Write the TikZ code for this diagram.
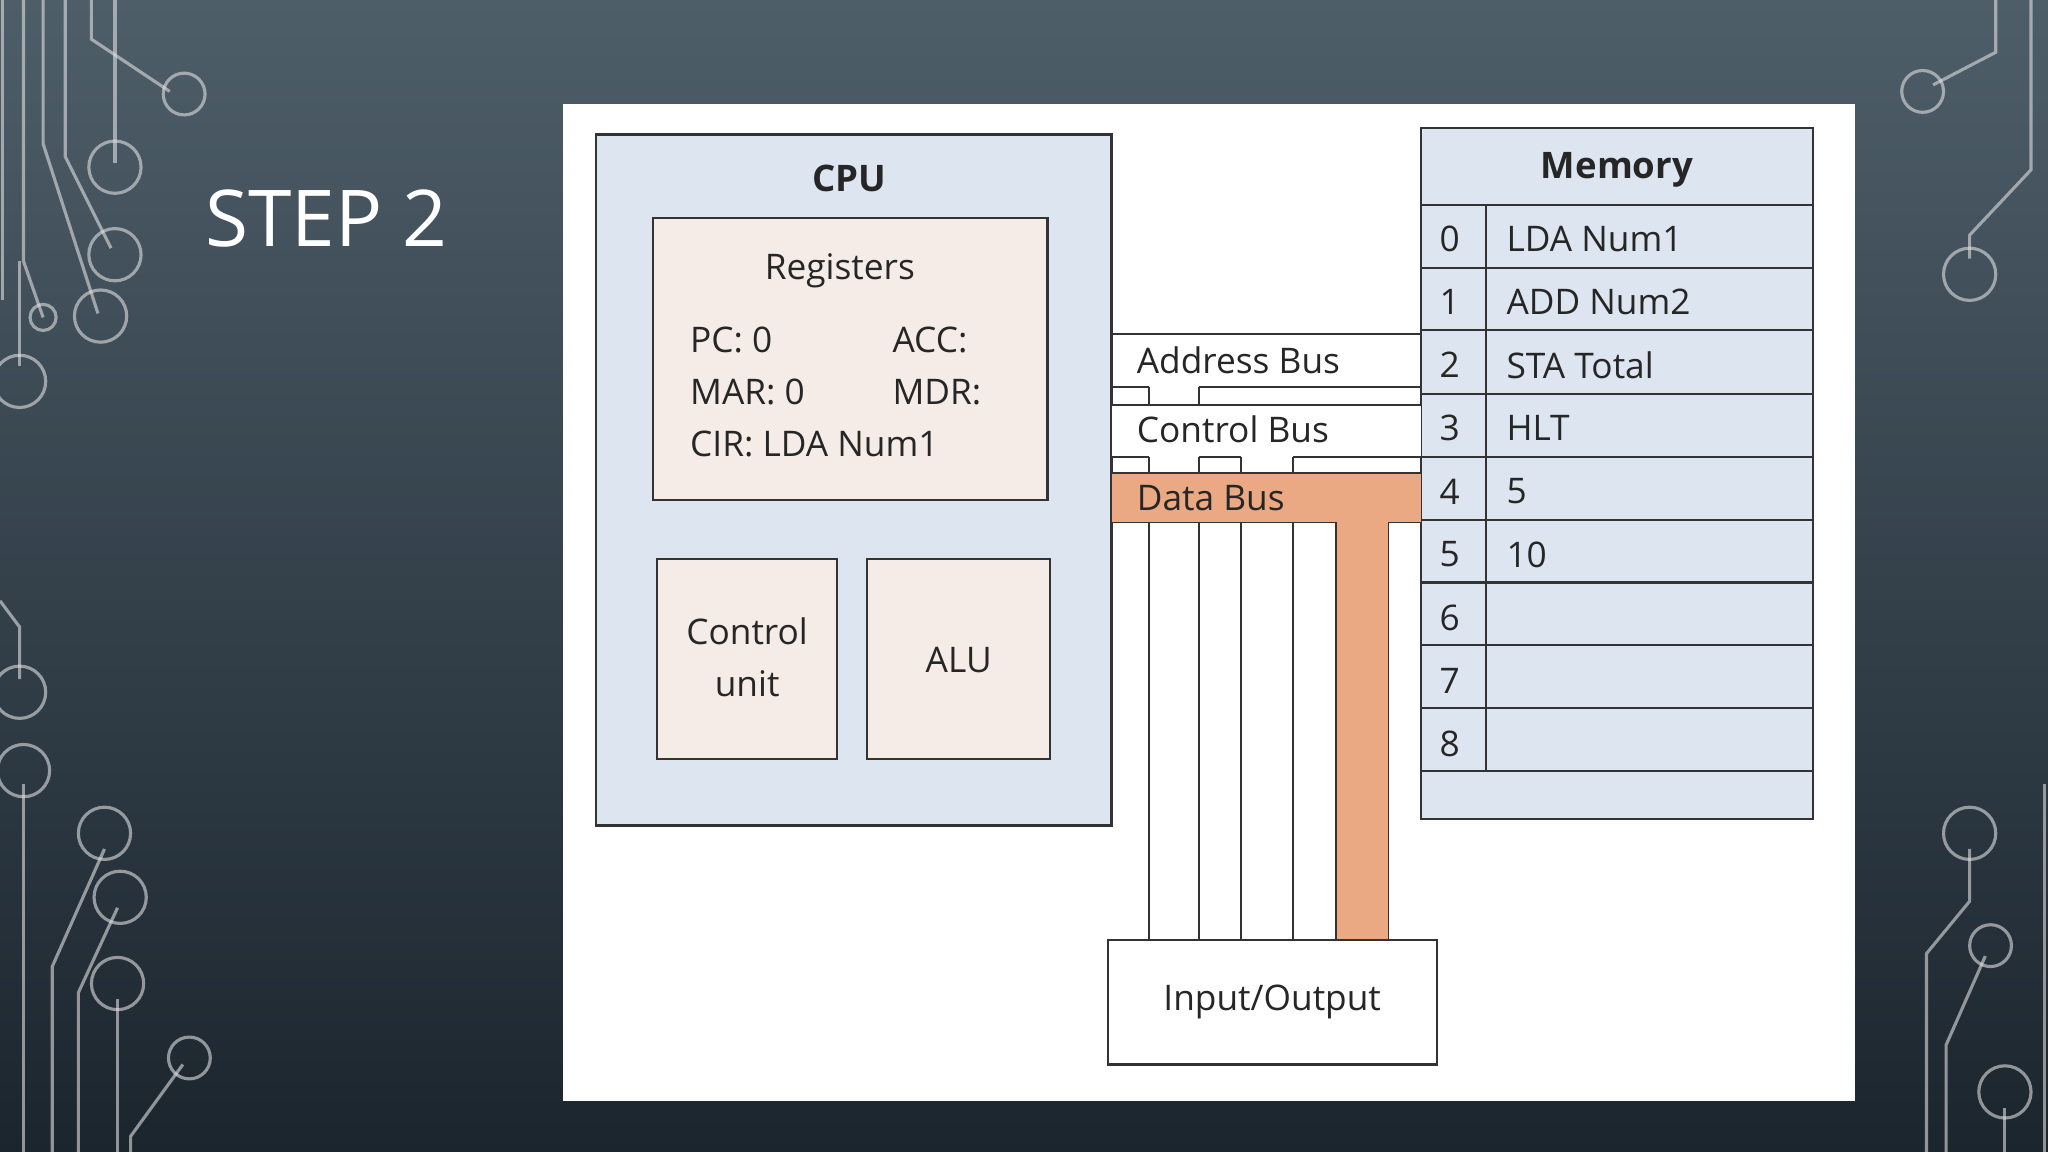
\documentclass[tikz,border=0pt]{standalone}
\usepackage{fontspec}
\setmainfont{Open Sans}
\definecolor{bgtop}{HTML}{4E5E69}
\definecolor{bgbot}{HTML}{1B252E}
\definecolor{lblue}{HTML}{DDE6F0}
\definecolor{lpink}{HTML}{F5ECE7}
\definecolor{bus}{HTML}{EAA883}
\begin{document}
\begin{tikzpicture}[x=0.5pt,y=-0.5pt,
  box/.style={draw=black!80,line width=0.8pt},
  t/.style={font=\fontsize{13.5}{16}\selectfont,text=black!85,inner sep=0pt},
  circ/.style={draw=white!75!gray,line width=1.2pt},
  bl/.style={draw=black!80,line width=0.7pt}]
\useasboundingbox (0,0) rectangle (1568,882);
\shade[top color=bgtop, bottom color=bgbot] (0,0) rectangle (1568,882);
% circuit decorations
\begin{scope}[circ,opacity=0.6]
\draw (2,0)--(2,230); \draw (18,0)--(18,200)--(33,243); \draw (33,0)--(33,110)--(75,240);
\draw (70,0)--(70,30)--(130,70); \node[circle,draw,minimum size=16pt,inner sep=0pt] (c1) at (141,72) {};
\draw (88,0)--(88,125); \node[circle,draw,minimum size=20pt,inner sep=0pt] (c2) at (88,128){};
\draw (50,0)--(50,120)--(85,190); \node[circle,draw,minimum size=20pt,inner sep=0pt] (c3) at (88,195){};
\node[circle,draw,minimum size=20pt,inner sep=0pt] (c4) at (77,242){};
\draw (15,200)--(15,280); \node[circle,draw,minimum size=20pt,inner sep=0pt] (c5) at (15,292){};
\node[circle,draw,minimum size=10pt,inner sep=0pt] (c6) at (33,243){};
\draw (0,460)--(15,480)--(15,520); \node[circle,draw,minimum size=20pt,inner sep=0pt] at (15,530){};
\draw (18,600)--(18,882); \node[circle,draw,minimum size=20pt,inner sep=0pt] at (18,590){};
\draw (80,650)--(40,740)--(40,882); \node[circle,draw,minimum size=20pt,inner sep=0pt] at (80,638){};
\draw (90,695)--(60,760)--(60,882); \node[circle,draw,minimum size=20pt,inner sep=0pt] at (92,687){};
\draw (90,765)--(90,882); \node[circle,draw,minimum size=20pt,inner sep=0pt] at (90,753){};
\draw (140,815)--(100,870)--(100,882); \node[circle,draw,minimum size=16pt,inner sep=0pt] at (145,810){};
\draw (1528,0)--(1528,40)--(1480,65); \node[circle,draw,minimum size=16pt,inner sep=0pt] at (1472,70){};
\draw (1555,0)--(1555,130)--(1508,180)--(1508,198); \node[circle,draw,minimum size=20pt,inner sep=0pt] at (1508,210){};
\draw (1508,650)--(1508,690)--(1475,730)--(1475,882); \node[circle,draw,minimum size=20pt,inner sep=0pt] at (1508,638){};
\draw (1520,732)--(1490,800)--(1490,882); \node[circle,draw,minimum size=16pt,inner sep=0pt] at (1524,724){};
\draw (1535,848)--(1535,882); \node[circle,draw,minimum size=20pt,inner sep=0pt] at (1535,836){};
\draw (1565,600)--(1565,882);
\end{scope}
\node[text=white,font=\fontsize{30}{34}\selectfont,inner sep=0pt] (step) at (250,167) {STEP 2};
% panel
\fill[white] (431,80) rectangle (1420,843);
% CPU
\draw[box,fill=lblue] (456,103) rectangle (851,632);
\node[t,font=\fontsize{14}{16}\selectfont\bfseries] (cpu) at (650,137) {CPU};
\draw[box,fill=lpink] (500,167) rectangle (802,383);
\node[t] (reg) at (643,207) {Registers};
\node[t,anchor=west] (pc) at (528,260) {PC: 0};
\node[t,anchor=west] (acc) at (683,260) {ACC:};
\node[t,anchor=west] (mar) at (528,300) {MAR: 0};
\node[t,anchor=west] (mdr) at (683,300) {MDR:};
\node[t,anchor=west] (cir) at (528,340) {CIR: LDA Num1};
\draw[box,fill=lpink] (503,428) rectangle (641,581);
\node[t,align=center] (cu) at (572,503) {Control\\[4pt]unit};
\draw[box,fill=lpink] (664,428) rectangle (804,581);
\node[t] (alu) at (734,505) {ALU};
% Memory
\draw[box,fill=lblue] (1088,98) rectangle (1388,627);
\node[t,font=\fontsize{14}{16}\selectfont\bfseries] (mem) at (1238,130) {Memory};
\foreach \y in {157,205,253,302,350,398,446,494,542,590} \draw[box] (1088,\y)--(1388,\y);
\draw[box] (1138,157)--(1138,590);
\foreach \i/\c in {0/LDA Num1,1/ADD Num2,2/STA Total,3/HLT,4/5,5/10,6/,7/,8/} {
  \node[t] (n\i) at (1110,{183+48.3*\i}) {\i};
  \node[t,anchor=west] (m\i) at (1153,{183+48.3*\i}) {\c};
}
% buses
\draw[bl] (880,296)--(880,720) (918,296)--(918,720);
\draw[bl] (950,350)--(950,720) (990,350)--(990,720);
\fill[white] (851,310) rectangle (1088,350);
\fill[bus] (851,362) rectangle (1088,400);
\fill[bus] (1023,400) rectangle (1063,720);
\draw[bl] (851,256)--(1088,256);
\draw[bl] (851,296)--(880,296) (918,296)--(1088,296);
\draw[bl] (851,310)--(1088,310);
\draw[bl] (851,350)--(880,350) (918,350)--(950,350) (990,350)--(1088,350);
\draw[bl] (851,362)--(1088,362);
\draw[bl] (851,400)--(1023,400) (1063,400)--(1088,400);
\draw[bl] (1023,400)--(1023,720) (1063,400)--(1063,720);
\node[t,anchor=west] (ab) at (870,276) {Address Bus};
\node[t,anchor=west] (cb) at (870,329) {Control Bus};
\node[t,anchor=west] (db) at (870,381) {Data Bus};
\draw[box,fill=white] (848,720) rectangle (1100,815);
\node[t] (io) at (974,767) {Input/Output};
\end{tikzpicture}
\end{document}
